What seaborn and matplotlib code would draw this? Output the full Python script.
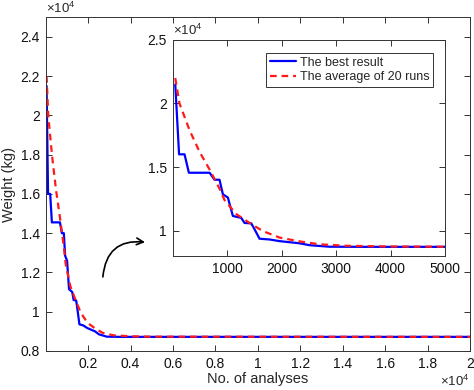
import numpy as np
import pandas as pd
import seaborn as sns
import matplotlib.pyplot as plt

# convergence history (number of analyses, weight in kg)
best_x = [50, 120, 220, 300, 680, 770, 862, 924, 1015, 1107, 1260, 1321, 1444,
          1505, 1596, 1780, 1963, 2330, 2514, 2881, 3500, 5000, 20000]
best_w = [21500, 16000, 16000, 14550, 14550, 14000, 14000, 12850, 12600, 11150,
          11000, 10600, 10570, 10100, 9360, 9300, 9170, 9000, 8850, 8730, 8720,
          8720, 8720]

avg_x = [50, 128, 312, 495, 680, 862, 954, 1169, 1413, 1657, 1963, 2330, 2697,
         3200, 4000, 5000, 20000]
avg_w = [22000, 20000, 17900, 16200, 14800, 13300, 12400, 11300, 10600, 9960,
         9450, 9150, 8920, 8800, 8750, 8730, 8720]

main_xticks = [2000, 4000, 6000, 8000, 10000, 12000, 14000, 16000, 18000, 20000]
main_xlabels = ['0.2', '0.4', '0.6', '0.8', '1', '1.2', '1.4', '1.6', '1.8', '2']
main_yticks = [8000, 10000, 12000, 14000, 16000, 18000, 20000, 22000, 24000]
main_ylabels = ['0.8', '1', '1.2', '1.4', '1.6', '1.8', '2', '2.2', '2.4']
ins_xticks = [1000, 2000, 3000, 4000, 5000]
ins_xlabels = ['1000', '2000', '3000', '4000', '5000']
ins_yticks = [10000, 15000, 20000, 25000]
ins_ylabels = ['1', '1.5', '2', '2.5']

sns.set_style('ticks')
plt.rcParams['font.family'] = ['Liberation Sans', 'DejaVu Sans']
plt.rcParams['font.size'] = 10
plt.rcParams['mathtext.fontset'] = 'custom'
plt.rcParams['mathtext.rm'] = 'Liberation Sans'

best = pd.DataFrame({'x': best_x, 'w': best_w})
avg = pd.DataFrame({'x': avg_x, 'w': avg_w})

fig = plt.figure(figsize=(4.74, 3.9), dpi=100)
ax = fig.add_axes([0.096, 0.1, 0.8966, 0.856])
axin = fig.add_axes([0.364, 0.3436, 0.575, 0.554])

edge = '#333333'


def style_axes(a):
    for s in a.spines.values():
        s.set_visible(True)
        s.set_color(edge)
        s.set_linewidth(0.7)
    a.tick_params(direction='in', length=4, width=0.7, color=edge,
                  top=True, right=True, labelsize=10, labelcolor='#111111', pad=4)


for a, lab in [(ax, False), (axin, True)]:
    sns.lineplot(data=best, x='x', y='w', ax=a, color='#0000ff', lw=1.6,
                 label='The best result' if lab else None, estimator=None, sort=False)
    sns.lineplot(data=avg, x='x', y='w', ax=a, color='#ff1a1a', lw=1.6,
                 dashes=False, linestyle=(0, (3, 2.2)),
                 label='The average of 20 runs' if lab else None,
                 estimator=None, sort=False)
    style_axes(a)

ax.set_xlim(0, 20000)
ax.set_ylim(8000, 25000)
ax.set_xticks(main_xticks)
ax.set_xticklabels(main_xlabels)
ax.set_yticks(main_yticks)
ax.set_yticklabels(main_ylabels)
ax.set_xlabel('No. of analyses', fontsize=10.5, labelpad=1)
ax.set_ylabel('Weight (kg)', fontsize=10.5, labelpad=3)

axin.set_xlim(0, 5000)
axin.set_ylim(8000, 25000)
axin.set_xticks(ins_xticks)
axin.set_xticklabels(ins_xlabels)
axin.set_yticks(ins_yticks)
axin.set_yticklabels(ins_ylabels)
axin.set_xlabel('')
axin.set_ylabel('')

leg = axin.legend(loc='upper right', bbox_to_anchor=(0.9135, 0.864),
                  bbox_transform=fig.transFigure, fancybox=False,
                  edgecolor=edge, framealpha=1, fontsize=9, handlelength=2.1,
                  handletextpad=0.25, borderpad=0.3, labelspacing=0.2,
                  borderaxespad=0)
leg.get_frame().set_linewidth(0.7)

# exponent labels in MATLAB style
fig.text(0.097, 0.958, r'$\times\mathregular{10^4}$', fontsize=9.5, ha='left', va='bottom')
fig.text(0.366, 0.902, r'$\times\mathregular{10^4}$', fontsize=9.5, ha='left', va='bottom')
fig.text(0.99, 0.003, r'$\times\mathregular{10^4}$', fontsize=9.5, ha='right', va='bottom')

ax.annotate('', xy=(0.306, 0.379), xytext=(0.217, 0.29),
            xycoords='figure fraction', textcoords='figure fraction',
            arrowprops=dict(arrowstyle='->', color='black', lw=1.2,
                            connectionstyle='arc3,rad=-0.5',
                            shrinkA=0, shrinkB=0, mutation_scale=12))

fig.savefig('out.png', dpi=100)
